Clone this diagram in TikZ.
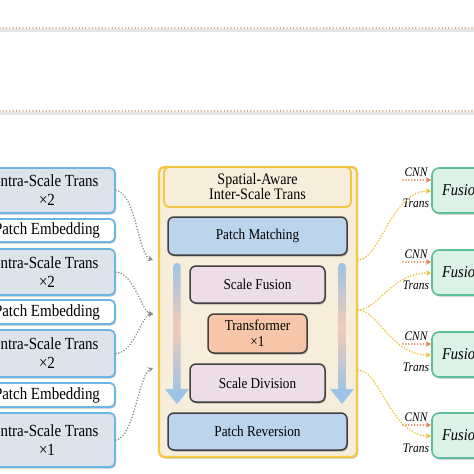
\documentclass[tikz,border=0pt]{standalone}
\usepackage{fontspec}
\setmainfont{Liberation Serif}[FakeStretch=0.88]
\usetikzlibrary{arrows.meta,shadows}
\definecolor{lblue}{HTML}{6DB6E4}
\definecolor{lgray}{HTML}{DCE3EB}
\definecolor{gold}{HTML}{F2C744}
\definecolor{beige}{HTML}{F6EEDA}
\definecolor{pmblue}{HTML}{BCD5EC}
\definecolor{sfpink}{HTML}{EDDDE6}
\definecolor{peach}{HTML}{F7C6A8}
\definecolor{dgray}{HTML}{404040}
\definecolor{mint}{HTML}{DCF1E7}
\definecolor{fgreen}{HTML}{5CBF97}
\definecolor{dotyel}{HTML}{F0C030}
\definecolor{dotora}{HTML}{E0804A}
\definecolor{dotgray}{HTML}{8A8A8A}
\definecolor{toptan}{HTML}{D09868}
\definecolor{arblue}{HTML}{9DC3E6}
\definecolor{arpeach}{HTML}{F2CBB8}
\begin{document}
\begin{tikzpicture}[x=1pt,y=-1pt,
  shad/.style={drop shadow={shadow xshift=1pt, shadow yshift=-1.5pt, opacity=0.25, fill=black}},
  boxbase/.style={rounded corners=5pt, line width=1.3pt, align=center, inner sep=0pt, shad},
  intra/.style={boxbase, draw=lblue, line width=1.8pt, fill=lgray, minimum width=136pt, font=\fontsize{17}{19}\selectfont},
  embed/.style={intra, fill=white},
  midbox/.style={boxbase, draw=dgray, line width=1.5pt, rounded corners=6pt, font=\fontsize{15}{16}\selectfont},
  fus/.style={boxbase, rounded corners=7pt, draw=fgreen, line width=1.6pt, fill=mint, minimum height=45pt, text width=50pt, align=left, inner xsep=10pt, font=\fontsize{16.5}{18}\selectfont\itshape},
  gdot/.style={draw=dotgray, line width=1.7pt, line cap=round, dash pattern=on 0pt off 2.9pt, -{Stealth[length=5pt,width=5.5pt]}},
  ydot/.style={draw=dotyel, line width=1.8pt, line cap=round, dash pattern=on 0pt off 2.9pt, -{Stealth[length=5pt,width=5.5pt]}},
  odot/.style={draw=dotora, line width=1.8pt, line cap=round, dash pattern=on 0pt off 2.9pt, -{Stealth[length=5pt,width=5.5pt]}},
  topdot/.style={draw=toptan, line width=1.7pt, line cap=round, dash pattern=on 0pt off 3.3pt},
  tag/.style={font=\fontsize{13}{13}\selectfont\itshape, inner sep=0pt}
]
\useasboundingbox (0,0) rectangle (474,474);
\fill[white] (0,0) rectangle (474,474);

% top dotted separators
\coordinate (s1l) at (0,28); \coordinate (s1r) at (474,28);
\coordinate (s2l) at (0,111); \coordinate (s2r) at (474,111);
\draw[black!10, line width=2.5pt] ([yshift=-2.5pt]s1l) -- ([yshift=-2.5pt]s1r);
\draw[black!10, line width=2.5pt] ([yshift=-2.5pt]s2l) -- ([yshift=-2.5pt]s2r);
\draw[topdot] (s1l) -- (s1r);
\draw[topdot] (s2l) -- (s2r);

% left column
\node[intra, minimum height=45pt] (L1) at (47,190.5) {Intra-Scale Trans\\×2};
\node[embed, minimum height=23pt] (L2) at (47,230.5) {Patch Embedding};
\node[intra, minimum height=46pt] (L3) at (47,272) {Intra-Scale Trans\\×2};
\node[embed, minimum height=24pt] (L4) at (47,312) {Patch Embedding};
\node[intra, minimum height=47pt] (L5) at (47,353.5) {Intra-Scale Trans\\×2};
\node[embed, minimum height=24pt] (L6) at (47,395) {Patch Embedding};
\node[intra, minimum height=54pt] (L7) at (47,440) {Intra-Scale Trans\\×1};

% middle block
\node[draw=gold, fill=beige, line width=2.2pt, rounded corners=5pt, minimum width=198pt, minimum height=290pt, shad] (big) at (258,312) {};
\node[draw=gold, fill=beige, line width=1.8pt, rounded corners=5pt, minimum width=187pt, minimum height=40pt, align=center, inner sep=0pt, font=\fontsize{16}{15}\selectfont] (title) at (257.5,187) {Spatial-Aware\\Inter-Scale Trans};
\node[midbox, fill=pmblue, minimum width=179pt, minimum height=38pt] (PM) at (257.5,236) {Patch Matching};
\node[midbox, fill=sfpink, minimum width=135pt, minimum height=37pt] (SF) at (257.5,284.5) {Scale Fusion};
\node[midbox, fill=peach, minimum width=99pt, minimum height=39pt] (TR) at (257.5,333.5) {Transformer\\×1};
\node[midbox, fill=sfpink, minimum width=135pt, minimum height=38pt] (SD) at (257.5,383) {Scale Division};
\node[midbox, fill=pmblue, minimum width=179pt, minimum height=37pt] (PR) at (257.5,431.5) {Patch Reversion};

% vertical gradient arrows
\foreach \xx in {177,342} {
  \shade[top color=arblue, bottom color=arblue, middle color=arpeach, rounded corners=3pt] (\xx-3.5,263) rectangle (\xx+3.5,392);
  \fill[arblue] (\xx-12,389) -- (\xx+12,389) -- (\xx,404) -- cycle;
}

% left connectors
\coordinate (a1) at (153,260);
\coordinate (a2) at (153,315);
\coordinate (a3) at (153,313);
\coordinate (a4) at (153,368);
\draw[gdot] (L1.east) .. controls +(20,2) and +(-15,-5) .. (a1);
\draw[gdot] (L3.east) .. controls +(18,1) and +(-12,-5) .. (a2);
\draw[gdot] (L5.east) .. controls +(18,-1) and +(-12,4) .. (a3);
\draw[gdot] (L7.east) .. controls +(18,-2) and +(-14,6) .. (a4);

% fusion boxes
\node[fus] (F1) at (467,190.5) {Fusion};
\node[fus] (F2) at (467,272.5) {Fusion};
\node[fus] (F3) at (467,354.5) {Fusion};
\node[fus] (F4) at (467,435.5) {Fusion};

% CNN inputs and labels
\foreach \i/\top in {1/168,2/250,3/332,4/413} {
  \coordinate (cs\i) at (403,\top+12);
  \coordinate (ce\i) at (431,\top+12);
  \coordinate (te\i) at (431,\top+23);
  \draw[odot] (cs\i) -- (ce\i);
  \node[tag] (cl\i) at (416,\top+4) {CNN};
  \node[tag] (tl\i) at (416,\top+35) {Trans};
}

% right connectors
\coordinate (o1) at (358,260);
\coordinate (o2) at (358,310);
\coordinate (o3) at (358,370);
\draw[ydot] (o1) .. controls +(22,0) and +(-40,0) .. (te1);
\draw[ydot] (o2) .. controls +(20,0) and +(-40,0) .. (te2);
\draw[ydot] (o2) .. controls +(20,0) and +(-40,0) .. (te3);
\draw[ydot] (o3) .. controls +(22,0) and +(-40,0) .. (te4);
\end{tikzpicture}
\end{document}
